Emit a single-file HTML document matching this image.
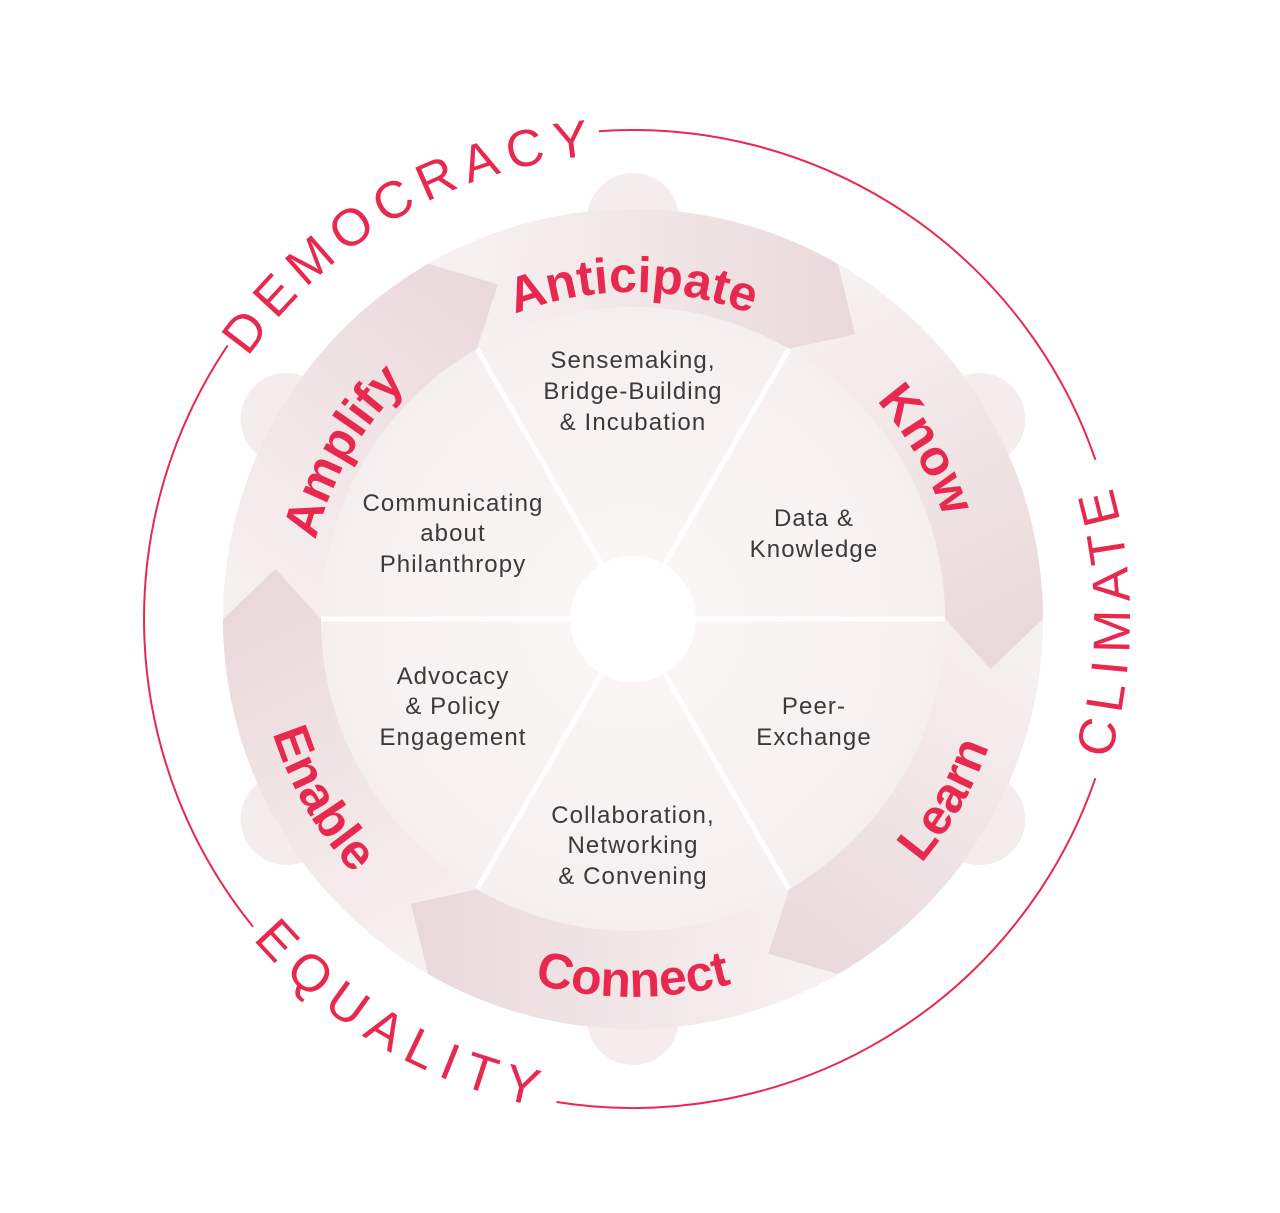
<!DOCTYPE html>
<html><head><meta charset="utf-8"><style>
html,body{margin:0;padding:0;background:#fff;}
svg{display:block;}
.sec{font-family:"Liberation Sans",sans-serif;font-size:24px;fill:#3a3a3a;letter-spacing:1.1px;text-anchor:middle;}
.lab{font-family:"Liberation Sans",sans-serif;font-size:50px;font-weight:bold;fill:#e8294f;}
.out{font-family:"Liberation Sans",sans-serif;font-size:52px;fill:#e8294f;}
</style></head><body>
<svg width="1280" height="1213" viewBox="0 0 1280 1213" xmlns="http://www.w3.org/2000/svg">
<defs>
<linearGradient id="gA" gradientUnits="userSpaceOnUse" x1="480" y1="300" x2="850" y2="310"><stop offset="0" stop-color="#f7f0f0"/><stop offset="1" stop-color="#ead9da"/></linearGradient>
<linearGradient id="gK" gradientUnits="userSpaceOnUse" x1="820" y1="300" x2="990" y2="650"><stop offset="0" stop-color="#f7f0f0"/><stop offset="1" stop-color="#ead9da"/></linearGradient>
<linearGradient id="gL" gradientUnits="userSpaceOnUse" x1="1000" y1="640" x2="790" y2="950"><stop offset="0" stop-color="#f7f0f0"/><stop offset="1" stop-color="#ead9da"/></linearGradient>
<linearGradient id="gC" gradientUnits="userSpaceOnUse" x1="800" y1="940" x2="420" y2="930"><stop offset="0" stop-color="#f7f0f0"/><stop offset="1" stop-color="#ead9da"/></linearGradient>
<linearGradient id="gE" gradientUnits="userSpaceOnUse" x1="450" y1="930" x2="275" y2="590"><stop offset="0" stop-color="#f7f0f0"/><stop offset="1" stop-color="#ead9da"/></linearGradient>
<linearGradient id="gM" gradientUnits="userSpaceOnUse" x1="260" y1="600" x2="490" y2="290"><stop offset="0" stop-color="#f7f0f0"/><stop offset="1" stop-color="#ead9da"/></linearGradient>
<radialGradient id="gIn" cx="633" cy="619" r="312" gradientUnits="userSpaceOnUse"><stop offset="0" stop-color="#fbf8f8"/><stop offset="1" stop-color="#f6efef"/></radialGradient>
<path id="pAmp" d="M469.5,902.2 A327,327 0 0 1 796.5,335.8"/>
<path id="pAnt" d="M306,619 A327,327 0 0 1 960,619"/>
<path id="pKno" d="M469.5,335.8 A327,327 0 0 1 796.5,902.2"/>
<path id="pLea" d="M444,946.4 A378,378 0 0 0 822,291.6"/>
<path id="pCon" d="M255,619 A378,378 0 0 0 1011,619"/>
<path id="pEna" d="M444,291.6 A378,378 0 0 0 822,946.4"/>
<path id="pDem" d="M226,854 A470,470 0 0 1 1040,384"/>
<path id="pCli" d="M633,1116 A497,497 0 0 0 633,122"/>
<path id="pEqu" d="M200,369 A500,500 0 0 0 1066,869"/>
</defs>

<g fill="none" stroke="#e8294f" stroke-width="2">
<path d="M598.9,131.2 A489,489 0 0 1 1095.4,459.8"/>
<path d="M1095.4,778.2 A489,489 0 0 1 556.5,1102"/>
<path d="M253,926.7 A489,489 0 0 1 227.6,345.6"/>
</g>

<g fill="#f5eded">
<circle cx="633" cy="219" r="46"/>
<circle cx="979.4" cy="419" r="46"/>
<circle cx="979.4" cy="819" r="46"/>
<circle cx="633" cy="1019" r="46"/>
<circle cx="286.6" cy="819" r="46"/>
<circle cx="286.6" cy="419" r="46"/>
</g>
<circle cx="633" cy="619" r="410" fill="#f7f0f0"/>

<path fill="url(#gA)" d="M428,263.9 A410,410 0 0 1 838,263.9 L855.3,334.5 L789,348.8 A312,312 0 0 0 477,348.8 L497.8,284.3 Z"/>
<path fill="url(#gK)" d="M838,263.9 A410,410 0 0 1 1043,619 L990.5,669.3 L945,619 A312,312 0 0 0 789,348.8 L855.3,334.5 Z"/>
<path fill="url(#gL)" d="M1043,619 A410,410 0 0 1 838,974.1 L768.2,953.7 L789,889.2 A312,312 0 0 0 945,619 L990.5,669.3 Z"/>
<path fill="url(#gC)" d="M838,974.1 A410,410 0 0 1 428,974.1 L410.7,903.5 L477,889.2 A312,312 0 0 0 789,889.2 L768.2,953.7 Z"/>
<path fill="url(#gE)" d="M428,974.1 A410,410 0 0 1 223,619 L275.5,568.7 L321,619 A312,312 0 0 0 477,889.2 L410.7,903.5 Z"/>
<path fill="url(#gM)" d="M223,619 A410,410 0 0 1 428,263.9 L497.8,284.3 L477,348.8 A312,312 0 0 0 321,619 L275.5,568.7 Z"/>

<circle cx="633" cy="619" r="312" fill="url(#gIn)"/>
<g stroke="#ffffff" stroke-width="5">
<line x1="321" y1="619" x2="945" y2="619"/>
<line x1="477" y1="348.8" x2="789" y2="889.2"/>
<line x1="789" y1="348.8" x2="477" y2="889.2"/>
</g>
<circle cx="633" cy="619" r="63" fill="#ffffff"/>

<text class="sec" x="633" y="368">Sensemaking,</text>
<text class="sec" x="633" y="399">Bridge-Building</text>
<text class="sec" x="633" y="430">&amp; Incubation</text>
<text class="sec" x="814" y="526">Data &amp;</text>
<text class="sec" x="814" y="557">Knowledge</text>
<text class="sec" x="814" y="714">Peer-</text>
<text class="sec" x="814" y="745">Exchange</text>
<text class="sec" x="633" y="823">Collaboration,</text>
<text class="sec" x="633" y="853">Networking</text>
<text class="sec" x="633" y="884">&amp; Convening</text>
<text class="sec" x="453" y="684">Advocacy</text>
<text class="sec" x="453" y="714">&amp; Policy</text>
<text class="sec" x="453" y="745">Engagement</text>
<text class="sec" x="453" y="511">Communicating</text>
<text class="sec" x="453" y="541">about</text>
<text class="sec" x="453" y="572">Philanthropy</text>

<text class="lab"><textPath href="#pAmp" startOffset="50%" text-anchor="middle">Amplify</textPath></text>
<text class="lab"><textPath href="#pAnt" startOffset="50%" text-anchor="middle">Anticipate</textPath></text>
<text class="lab"><textPath href="#pKno" startOffset="50%" text-anchor="middle">Know</textPath></text>
<text class="lab"><textPath href="#pLea" startOffset="50%" text-anchor="middle">Learn</textPath></text>
<text class="lab"><textPath href="#pCon" startOffset="50%" text-anchor="middle">Connect</textPath></text>
<text class="lab"><textPath href="#pEna" startOffset="50%" text-anchor="middle">Enable</textPath></text>

<text class="out" letter-spacing="9"><textPath href="#pDem" startOffset="50%" text-anchor="middle">DEMOCRACY</textPath></text>
<text class="out" letter-spacing="9" font-size="54"><textPath href="#pCli" startOffset="50%" text-anchor="middle">CLIMATE</textPath></text>
<text class="out" letter-spacing="11"><textPath href="#pEqu" startOffset="50%" text-anchor="middle">EQUALITY</textPath></text>
</svg>
</body></html>
